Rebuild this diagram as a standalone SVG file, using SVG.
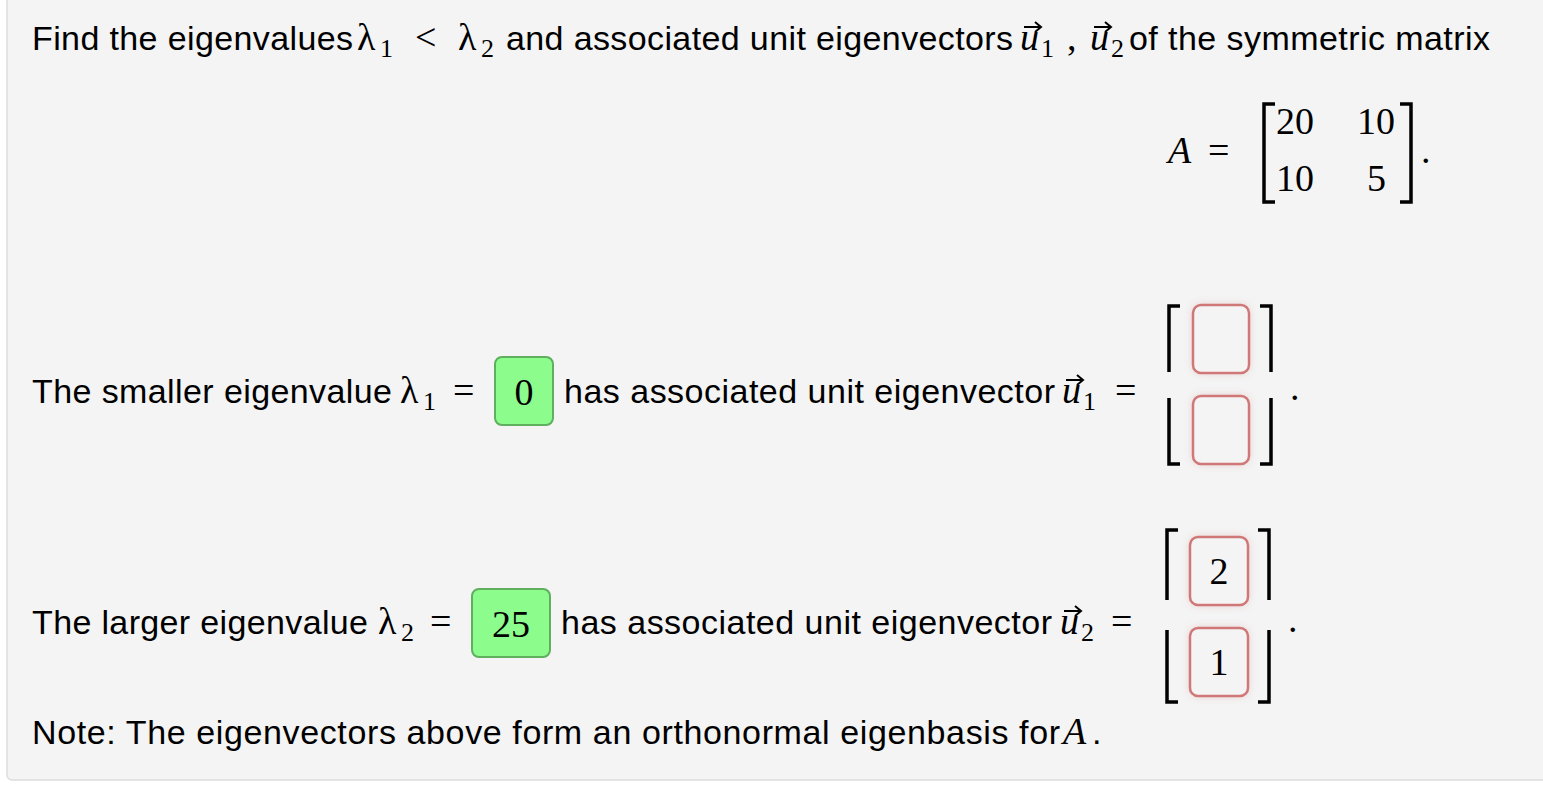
<svg xmlns="http://www.w3.org/2000/svg" width="1543" height="805" viewBox="0 0 1543 805">
<defs>
<style>
.t{font-family:"Liberation Sans",Arial,sans-serif;font-size:34px;fill:#000}
.m{font-family:"Liberation Serif","DejaVu Serif",serif;font-size:38px;fill:#000}
.i{font-style:italic}
.s{font-family:"Liberation Serif","DejaVu Serif",serif;font-size:26px}
.g{fill:#8cfc8c;stroke:#5faf5f;stroke-width:2}
.r{fill:#f4f4f4;stroke:#d07878;stroke-width:2.5}
.b{fill:none;stroke:#000;stroke-width:3.5}
.v{fill:none;stroke:#000;stroke-width:2}
</style>
<filter id="gl" x="-50%" y="-50%" width="200%" height="200%"><feGaussianBlur stdDeviation="4"/></filter>
</defs>
<rect x="0" y="0" width="1543" height="805" fill="#fff"/>
<rect x="7" y="-5" width="1560" height="785" rx="5" fill="#f4f4f4" stroke="#ddd" stroke-width="1.5"/>

<text x="32" y="50" class="t" textLength="321">Find the eigenvalues</text>
<text x="357" y="50" class="m">λ</text><text x="380" y="57" class="s">1</text>
<text x="415" y="50" class="m">&lt;</text>
<text x="458" y="50" class="m">λ</text><text x="481" y="57" class="s">2</text>
<text x="506" y="50" class="t" textLength="507">and associated unit eigenvectors</text>
<text x="1020" y="50" class="m i">u</text><path class="v" d="M1024 27H1040M1035 22L1041 27L1035 32"/><text x="1041" y="57" class="s">1</text>
<text x="1067" y="50" class="m">,</text>
<text x="1090" y="50" class="m i">u</text><path class="v" d="M1094 27H1110M1105 22L1111 27L1105 32"/><text x="1111" y="57" class="s">2</text>
<text x="1129" y="50" class="t" textLength="361">of the symmetric matrix</text>

<text x="1168" y="163" class="m i">A</text><text x="1208" y="163" class="m">=</text>
<path class="b" d="M1275 104H1264V202H1275M1400 104H1411V202H1400"/>
<text x="1276" y="134" class="m">20</text><text x="1357" y="134" class="m">10</text>
<text x="1276" y="191" class="m">10</text><text x="1367" y="191" class="m">5</text>
<text x="1421" y="163" class="m">.</text>

<text x="32" y="403" class="t" textLength="360">The smaller eigenvalue</text>
<text x="400" y="403" class="m">λ</text><text x="423" y="410" class="s">1</text>
<text x="453" y="403" class="m">=</text>
<rect x="495" y="357" width="58" height="68" rx="7" class="g"/>
<text x="524" y="405" class="m" text-anchor="middle">0</text>
<text x="564" y="403" class="t" textLength="491">has associated unit eigenvector</text>
<text x="1062" y="403" class="m i">u</text><path class="v" d="M1066 380H1082M1077 375L1083 380L1077 385"/><text x="1083" y="410" class="s">1</text>
<text x="1115" y="403" class="m">=</text>
<path class="b" d="M1180 306H1169V372M1169 398V464H1180M1260 306H1271V372M1271 398V464H1260"/>
<g filter="url(#gl)" opacity="0.35"><rect x="1193" y="305" width="56" height="68" rx="8" fill="#d07878"/><rect x="1193" y="396" width="56" height="68" rx="8" fill="#d07878"/></g>
<rect x="1193" y="305" width="56" height="68" rx="8" class="r"/>
<rect x="1193" y="396" width="56" height="68" rx="8" class="r"/>
<text x="1290" y="400" class="m">.</text>

<text x="32" y="634" class="t" textLength="336">The larger eigenvalue</text>
<text x="378" y="634" class="m">λ</text><text x="401" y="641" class="s">2</text>
<text x="430" y="634" class="m">=</text>
<rect x="472" y="589" width="78" height="68" rx="7" class="g"/>
<text x="511" y="637" class="m" text-anchor="middle">25</text>
<text x="561" y="634" class="t" textLength="491">has associated unit eigenvector</text>
<text x="1060" y="634" class="m i">u</text><path class="v" d="M1064 611H1080M1075 606L1081 611L1075 616"/><text x="1081" y="641" class="s">2</text>
<text x="1111" y="634" class="m">=</text>
<path class="b" d="M1178 530H1167V600M1167 630V702H1178M1258 530H1269V600M1269 630V702H1258"/>
<g filter="url(#gl)" opacity="0.35"><rect x="1190" y="537" width="58" height="68" rx="8" fill="#d07878"/><rect x="1190" y="628" width="58" height="68" rx="8" fill="#d07878"/></g>
<rect x="1190" y="537" width="58" height="68" rx="8" class="r"/>
<rect x="1190" y="628" width="58" height="68" rx="8" class="r"/>
<text x="1219" y="584" class="m" text-anchor="middle">2</text>
<text x="1219" y="675" class="m" text-anchor="middle">1</text>
<text x="1288" y="632" class="m">.</text>

<text x="32" y="744" class="t" textLength="1028">Note: The eigenvectors above form an orthonormal eigenbasis for</text>
<text x="1063" y="744" class="m i">A</text><text x="1092" y="744" class="t">.</text>
</svg>
